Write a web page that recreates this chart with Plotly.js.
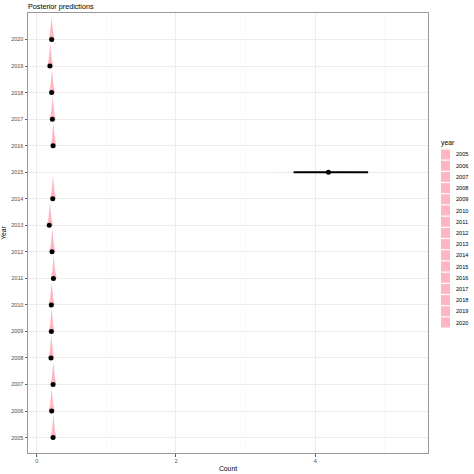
<!DOCTYPE html>
<html>
<head>
<meta charset="utf-8">
<script src="https://cdn.plot.ly/plotly-3.0.1.min.js"></script>
<style>html,body{margin:0;padding:0;background:#fff;}#chart{width:474px;height:474px;}</style>
</head>
<body>
<div id="chart"></div>
<script>
// ---- data ----
const years    = [2005,2006,2007,2008,2009,2010,2011,2012,2013,2014,2015,2016,2017,2018,2019,2020];
const medians  = [0.235,0.215,0.235,0.205,0.21,0.21,0.24,0.22,0.18,0.23,4.19,0.235,0.225,0.215,0.19,0.215];
const lowers   = [0.225,0.205,0.225,0.195,0.20,0.20,0.23,0.21,0.17,0.22,3.69,0.225,0.215,0.205,0.18,0.205];
const uppers   = [0.245,0.225,0.245,0.215,0.22,0.22,0.25,0.23,0.19,0.24,4.76,0.245,0.235,0.225,0.20,0.225];
const densPeak = [0.24,0.215,0.24,0.21,0.215,0.215,0.245,0.225,0.19,0.235,4.2,0.24,0.23,0.22,0.195,0.215];
const densHeight = [0.85,0.85,0.85,0.85,0.85,0.85,0.85,0.85,0.85,0.85,0.04,0.85,0.85,0.85,0.85,0.85];
const densHalfWidth = [0.045,0.045,0.045,0.045,0.045,0.045,0.045,0.045,0.045,0.045,0.75,0.045,0.045,0.045,0.045,0.045];
// shared outline profile of each density (fraction of half width / fraction of peak height)
const profX = [-1,-0.5,0,0.5,1];
const profH = [0,0.3,1,0.3,0];
const legendTitle = "year";

// ---- geometry helpers (pixels -> paper) ----
const L = 28, R = 46, T = 13, B = 21, W = 474 - L - R, H = 474 - T - B;
const px = v => (v - L) / W;
const py = v => (T + H - v) / H;

const traces = [];
years.forEach((yr, i) => {
  traces.push({
    type: 'scatter', mode: 'lines', fill: 'toself',
    x: profX.map(f => densPeak[i] + f * densHalfWidth[i]),
    y: profH.map(f => yr + f * densHeight[i]),
    line: {width: 0, color: 'rgba(0,0,0,0)'},
    fillcolor: '#FFB6C1',
    hoverinfo: 'skip', showlegend: false
  });
});
traces.push({
  type: 'scatter', mode: 'markers',
  x: medians, y: years,
  marker: {color: 'black', size: 5},
  error_x: {
    type: 'data', symmetric: false,
    array: uppers.map((u, i) => u - medians[i]),
    arrayminus: lowers.map((l, i) => medians[i] - l),
    width: 0, thickness: 2.2, color: 'black'
  },
  showlegend: false
});

// legend drawn with shapes + annotations
const shapes = [];
const annotations = [];
annotations.push({
  xref: 'paper', yref: 'paper', x: px(439), y: py(143), xanchor: 'left', yanchor: 'middle',
  text: legendTitle, showarrow: false, font: {size: 6.8, color: '#000', family: 'Liberation Sans, Arial, sans-serif'}
});
years.forEach((yr, i) => {
  const c = 154.5 + i * 11.2;
  shapes.push({
    type: 'rect', xref: 'paper', yref: 'paper',
    x0: px(441), x1: px(450), y0: py(c - 5), y1: py(c + 5),
    fillcolor: '#FFB6C1', line: {width: 0}
  });
  annotations.push({
    xref: 'paper', yref: 'paper', x: px(453.5), y: py(c), xanchor: 'left', yanchor: 'middle',
    text: String(yr), showarrow: false, font: {size: 5.6, color: '#000', family: 'Liberation Sans, Arial, sans-serif'}
  });
});

const font = 'Liberation Sans, Arial, sans-serif';
const layout = {
  width: 474, height: 474,
  margin: {l: L, r: R, t: T, b: B, pad: 0},
  paper_bgcolor: '#fff', plot_bgcolor: '#fff',
  font: {family: font, color: '#000'},
  showlegend: false,
  title: {text: 'Posterior predictions', x: L / 474, xanchor: 'left', y: 1 - 6.5 / 474, yanchor: 'middle',
          font: {size: 7.2, color: '#000', family: font}},
  xaxis: {
    range: [-0.125, 5.62], tickvals: [0, 2, 4], ticktext: ['0', '2', '4'],
    ticks: 'outside', ticklen: 2.5, tickwidth: 0.8, tickcolor: '#333',
    tickfont: {size: 5.5, color: '#4d4d4d', family: font},
    showgrid: true, gridcolor: '#ebebeb', gridwidth: 0.9,
    minor: {tickvals: [1, 3, 5], showgrid: true, gridcolor: '#f3f3f3', gridwidth: 0.5, ticks: ''},
    zeroline: false, showline: true, mirror: true, linecolor: '#999', linewidth: 1,
    title: {text: 'Count', font: {size: 6.8, color: '#000', family: font}, standoff: 3}
  },
  yaxis: {
    range: [2004.42, 2021.0], tickvals: years, ticktext: years.map(String),
    ticks: 'outside', ticklen: 2.5, tickwidth: 0.8, tickcolor: '#333',
    tickfont: {size: 5.5, color: '#4d4d4d', family: font},
    showgrid: true, gridcolor: '#ebebeb', gridwidth: 0.9,
    zeroline: false, showline: true, mirror: true, linecolor: '#999', linewidth: 1,
    title: {text: 'Year', font: {size: 6.8, color: '#000', family: font}, standoff: 4}
  },
  shapes: shapes,
  annotations: annotations
};

Plotly.newPlot('chart', traces, layout, {displayModeBar: false, staticPlot: true});
</script>
</body>
</html>
